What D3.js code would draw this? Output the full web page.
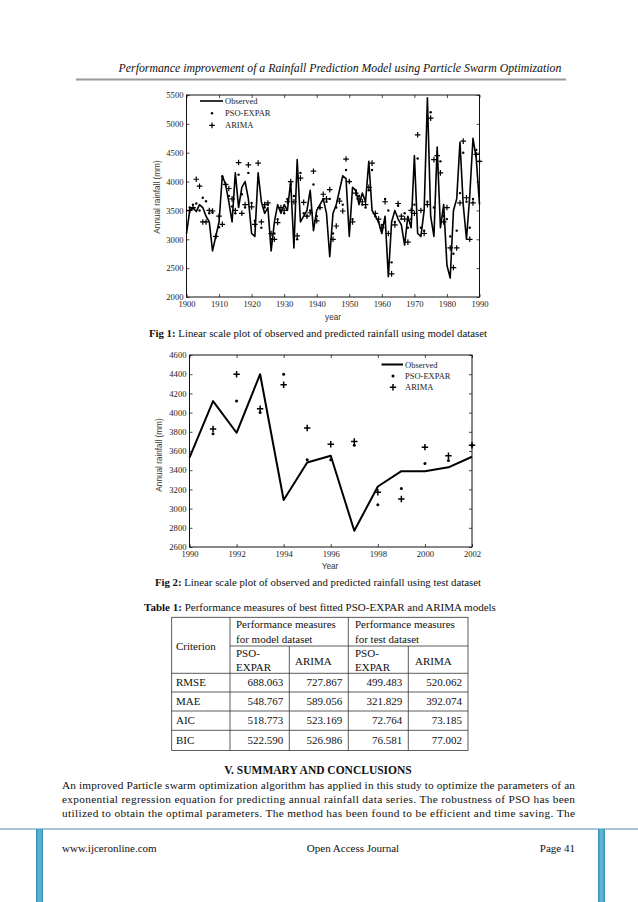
<!DOCTYPE html>
<html><head><meta charset="utf-8">
<script src="https://cdn.jsdelivr.net/npm/d3@7"></script>
<style>
html,body{margin:0;padding:0;background:#fff;}
svg{display:block;}
</style></head>
<body>
<svg id="page" width="638" height="902" font-family="'Liberation Serif','Times New Roman',serif" fill="#111"></svg>
<script>
// ---------- DATA ----------
const modelYears = [1900,1901,1902,1903,1904,1905,1906,1907,1908,1909,
1910,1911,1912,1913,1914,1915,1916,1917,1918,1919,
1920,1921,1922,1923,1924,1925,1926,1927,1928,1929,
1930,1931,1932,1933,1934,1935,1936,1937,1938,1939,
1940,1941,1942,1943,1944,1945,1946,1947,1948,1949,
1950,1951,1952,1953,1954,1955,1956,1957,1958,1959,
1960,1961,1962,1963,1964,1965,1966,1967,1968,1969,
1970,1971,1972,1973,1974,1975,1976,1977,1978,1979,
1980,1981,1982,1983,1984,1985,1986,1987,1988,1989,1990];
const modelObserved = [3100,3500,3550,3480,3600,3550,3400,3300,2800,3050,
3300,4100,3950,3650,3300,4150,3550,3900,4000,3700,
3100,3050,4150,3650,3450,3550,2800,3300,3600,3450,
3600,3500,4000,2850,4380,3300,3400,3500,3850,3150,
3500,3600,3700,3450,2700,3450,3600,3850,4100,4050,
3050,3900,3850,3600,3800,3650,4350,3500,3400,3300,
3100,3400,2350,3300,3500,3350,3250,2900,3400,3200,
4450,3100,3050,3500,5450,3400,3050,4600,3200,3600,
2550,2330,3500,3700,4680,3600,3000,3750,4750,4400,3600];
const modelPSO = [null,3550,3600,3620,3500,3720,3660,3450,3460,3040,
3210,4090,3950,3750,3570,3450,4120,3780,3550,4150,
3630,3320,4060,3200,3550,3600,3000,3100,3350,3500,
3450,3700,3950,3750,3000,4150,3450,3400,3500,3950,
3400,3550,3700,3650,3700,3100,3550,3700,3600,4200,
4000,3350,3850,3750,3600,3550,3850,4200,3400,3300,
3250,3700,3500,2600,3300,3580,3350,3450,3200,3350,
3600,4400,3200,3150,3650,5200,3550,4300,4350,3400,
3350,3050,2750,3150,3800,4500,3650,3200,3700,4550,4350];
const modelARIMA = [null,3500,3550,4040,3920,3300,3300,3500,3490,3050,
3400,3260,3950,3880,3700,3500,4330,3450,3600,4290,
3560,3260,4320,3300,3600,3630,3100,3000,3290,3550,
3500,3650,4000,3650,3060,4060,3640,3400,3460,4180,
3320,3550,3780,3700,3860,3000,3230,3660,3490,4390,
4000,3300,3800,3700,3650,3600,3900,4320,3450,3350,
3200,3650,3100,2400,3250,3620,3400,3350,2950,3500,
3450,4810,3500,3100,3600,5100,4380,4450,4150,3300,
3550,2850,2510,2850,3630,4700,3720,3000,3630,4470,4350];

const testYears = [1990,1991,1992,1993,1994,1995,1996,1997,1998,1999,2000,2001,2002];
const testObserved = [3530,4120,3790,4400,3090,3480,3550,2770,3230,3390,3390,3430,3540];
const testPSO = [null,3780,4120,4000,4400,3510,3510,3660,3040,3210,3470,3500,3660];
const testARIMA = [null,3830,4400,4040,4290,3840,3670,3700,3170,3100,3640,3550,3660];

const xTicks1 = [1900,1910,1920,1930,1940,1950,1960,1970,1980,1990];
const yTicks1 = [2000,2500,3000,3500,4000,4500,5000,5500];
const xTicks2 = [1990,1992,1994,1996,1998,2000,2002];
const yTicks2 = [2600,2800,3000,3200,3400,3600,3800,4000,4200,4400,4600];

const seriesNames = ["Observed","PSO-EXPAR","ARIMA"];

const tableCriteria = ["RMSE","MAE","AIC","BIC"];
const psoModel = ["688.063","548.767","518.773","522.590"];
const arimaModel = ["727.867","589.056","523.169","526.986"];
const psoTest = ["499.483","321.829","72.764","76.581"];
const arimaTest = ["520.062","392.074","73.185","77.002"];

const paragraph = [
 "An improved Particle swarm optimization algorithm has applied in this study to optimize the parameters of an",
 "exponential regression equation for predicting annual rainfall data series. The robustness of PSO has been",
 "utilized to obtain the optimal parameters. The method has been found to be efficient and time saving. The"
];

const SERIF = "'Liberation Serif','Times New Roman',serif";
const SANS = "'Liberation Sans',Arial,sans-serif";

// ---------- PAGE ----------
const svg = d3.select("#page");

svg.append("text").attr("x",340).attr("y",72).attr("text-anchor","middle")
  .attr("font-size",11.8).attr("font-style","italic")
  .text("Performance improvement of a Rainfall Prediction Model using Particle Swarm Optimization");
svg.append("line").attr("x1",76).attr("x2",566).attr("y1",79.5).attr("y2",79.5)
  .attr("stroke","#9a9a9a").attr("stroke-width",2);

// ---------- CHART FUNCTION ----------
function drawChart(cfg){
  const g = svg.append("g");
  const x = d3.scaleLinear().domain(cfg.xDomain).range([cfg.left,cfg.right]);
  const y = d3.scaleLinear().domain(cfg.yDomain).range([cfg.bottom,cfg.top]);
  const fs = 8.6;
  const ab = g.append("g").attr("transform",`translate(0,${cfg.bottom})`)
    .call(d3.axisBottom(x).tickValues(cfg.xTicks).tickFormat(d3.format("d")).tickSizeInner(-3).tickSizeOuter(0).tickPadding(4));
  const at = g.append("g").attr("transform",`translate(0,${cfg.top})`)
    .call(d3.axisTop(x).tickValues(cfg.xTicks).tickFormat("").tickSizeInner(-3).tickSizeOuter(0));
  const al = g.append("g").attr("transform",`translate(${cfg.left},0)`)
    .call(d3.axisLeft(y).tickValues(cfg.yTicks).tickFormat(d3.format("d")).tickSizeInner(-3).tickSizeOuter(0).tickPadding(3));
  const ar = g.append("g").attr("transform",`translate(${cfg.right},0)`)
    .call(d3.axisRight(y).tickValues(cfg.yTicks).tickFormat("").tickSizeInner(-3).tickSizeOuter(0));
  [ab,at,al,ar].forEach(a=>{
    a.attr("font-family",SERIF).attr("font-size",fs);
    a.select(".domain").remove();
    a.selectAll("line").attr("stroke","#222").attr("stroke-width",0.8);
    a.selectAll("text").attr("fill","#222");
  });
  g.append("rect").attr("x",cfg.left).attr("y",cfg.top)
    .attr("width",cfg.right-cfg.left).attr("height",cfg.bottom-cfg.top)
    .attr("fill","none").attr("stroke","#111").attr("stroke-width",1);
  g.append("text").attr("x",cfg.xLabelX).attr("y",cfg.xLabelY).attr("text-anchor","middle")
    .attr("font-family",SANS).attr("font-size",8.2).attr("fill","#333")
    .text(cfg.xLabel);
  g.append("text").attr("transform",`translate(${cfg.yLabelX},${cfg.yLabelY}) rotate(-90)`)
    .attr("text-anchor","middle").attr("dominant-baseline","middle")
    .attr("font-family",SANS).attr("font-size",8.2).attr("fill","#3a3030")
    .text("Annual rainfall (mm)");
  const pts = cfg.years.map((yr,i)=>[yr,cfg.obs[i]]);
  g.append("path").datum(pts)
    .attr("d",d3.line().x(d=>x(d[0])).y(d=>y(d[1])))
    .attr("fill","none").attr("stroke","#000").attr("stroke-width",cfg.lw).attr("stroke-linejoin","round");
  const pso = cfg.years.map((yr,i)=>[yr,cfg.pso[i]]).filter(d=>d[1]!=null);
  g.selectAll(null).data(pso).enter().append("circle")
    .attr("cx",d=>x(d[0])).attr("cy",d=>y(d[1])).attr("r",cfg.dotR).attr("fill","#000");
  const ari = cfg.years.map((yr,i)=>[yr,cfg.arima[i]]).filter(d=>d[1]!=null);
  const s = cfg.plus;
  g.selectAll(null).data(ari).enter().append("path")
    .attr("d",d=>`M${x(d[0])-s},${y(d[1])}H${x(d[0])+s}M${x(d[0])},${y(d[1])-s}V${y(d[1])+s}`)
    .attr("stroke","#000").attr("stroke-width",cfg.plusW).attr("fill","none");
  const L = cfg.legend;
  g.append("line").attr("x1",L.x1).attr("x2",L.x2).attr("y1",L.y0).attr("y2",L.y0)
    .attr("stroke","#000").attr("stroke-width",cfg.lw);
  g.append("circle").attr("cx",L.mx).attr("cy",L.y0+L.dy).attr("r",cfg.dotR).attr("fill","#000");
  g.append("path").attr("d",`M${L.mx-s},${L.y0+2*L.dy}H${L.mx+s}M${L.mx},${L.y0+2*L.dy-s}V${L.y0+2*L.dy+s}`)
    .attr("stroke","#000").attr("stroke-width",cfg.plusW);
  seriesNames.forEach((n,i)=>{
    g.append("text").attr("x",L.tx).attr("y",L.y0+i*L.dy+3).attr("font-size",L.fs).attr("fill","#222").text(n);
  });
}

drawChart({
  xDomain:[1900,1990], yDomain:[2000,5500], left:186.5, right:479.5, top:95, bottom:297,
  xTicks:xTicks1, yTicks:yTicks1, years:modelYears, obs:modelObserved, pso:modelPSO, arima:modelARIMA,
  xLabel:"year", xLabelX:333, xLabelY:320, yLabelX:158, yLabelY:197,
  lw:1.6, dotR:1.2, plus:2.8, plusW:1.2,
  legend:{x1:200,x2:223,y0:101,dy:12.2,mx:212,tx:225,fs:8.5}
});

svg.append("text").attr("x",318).attr("y",337).attr("text-anchor","middle").attr("font-size",10.8)
  .html('<tspan font-weight="bold">Fig 1:</tspan> Linear scale plot of observed and predicted rainfall using model dataset');

drawChart({
  xDomain:[1990,2002], yDomain:[2600,4600], left:189.5, right:472, top:355, bottom:547,
  xTicks:xTicks2, yTicks:yTicks2, years:testYears, obs:testObserved, pso:testPSO, arima:testARIMA,
  xLabel:"Year", xLabelX:330, xLabelY:569, yLabelX:160, yLabelY:455,
  lw:2, dotR:1.5, plus:3.2, plusW:1.5,
  legend:{x1:381.5,x2:403,y0:364.5,dy:11.4,mx:393,tx:405,fs:8.5}
});

svg.append("text").attr("x",318).attr("y",586).attr("text-anchor","middle").attr("font-size",10.8)
  .html('<tspan font-weight="bold">Fig 2:</tspan> Linear scale plot of observed and predicted rainfall using test dataset');

// ---------- TABLE ----------
svg.append("text").attr("x",320).attr("y",611).attr("text-anchor","middle").attr("font-size",11)
  .html('<tspan font-weight="bold">Table 1:</tspan> Performance measures of best fitted PSO-EXPAR and ARIMA models');

const colX = [171.7,230,289.3,348.3,408.3,468];
const rowY = [617.3,646,673.3,692,711,730.3,750.5];
const tg = svg.append("g").attr("stroke","#333").attr("stroke-width",0.8);
tg.append("rect").attr("x",colX[0]).attr("y",rowY[0]).attr("width",colX[5]-colX[0]).attr("height",rowY[6]-rowY[0]).attr("fill","none");
tg.append("line").attr("x1",colX[1]).attr("x2",colX[5]).attr("y1",rowY[1]).attr("y2",rowY[1]);
for(let r=2;r<6;r++) tg.append("line").attr("x1",colX[0]).attr("x2",colX[5]).attr("y1",rowY[r]).attr("y2",rowY[r]);
tg.append("line").attr("x1",colX[1]).attr("x2",colX[1]).attr("y1",rowY[0]).attr("y2",rowY[6]);
tg.append("line").attr("x1",colX[3]).attr("x2",colX[3]).attr("y1",rowY[0]).attr("y2",rowY[6]);
tg.append("line").attr("x1",colX[2]).attr("x2",colX[2]).attr("y1",rowY[1]).attr("y2",rowY[6]);
tg.append("line").attr("x1",colX[4]).attr("x2",colX[4]).attr("y1",rowY[1]).attr("y2",rowY[6]);

const tf = 11;
function tt(x,y,s,anchor){ svg.append("text").attr("x",x).attr("y",y).attr("font-size",tf).attr("text-anchor",anchor||"start").text(s); }
tt(176,649.5,"Criterion");
tt(236,628,"Performance measures"); tt(236,643,"for model dataset");
tt(355,628,"Performance measures"); tt(355,643,"for test dataset");
tt(236,657,"PSO-"); tt(236,671,"EXPAR"); tt(295,664.5,"ARIMA");
tt(355,657,"PSO-"); tt(355,671,"EXPAR"); tt(415,664.5,"ARIMA");
const dataCols = [psoModel,arimaModel,psoTest,arimaTest];
tableCriteria.forEach((c,i)=>{
  const yy = (rowY[i+2]+rowY[i+3])/2 + 3.8;
  tt(176,yy,c);
  dataCols.forEach((col,j)=>tt(colX[j+2]-6,yy,col[i],"end"));
});

// ---------- SECTION ----------
svg.append("text").attr("x",318).attr("y",774).attr("text-anchor","middle").attr("font-size",11.5)
  .attr("font-weight","bold").text("V.   SUMMARY AND CONCLUSIONS");
paragraph.forEach((line,i)=>{
  svg.append("text").attr("x",62).attr("y",789+i*14).attr("font-size",11.3)
    .attr("textLength",513).attr("lengthAdjust","spacing").text(line);
});

// ---------- FOOTER ----------
svg.append("line").attr("x1",0).attr("x2",638).attr("y1",829).attr("y2",829).attr("stroke","#8fb3c4").attr("stroke-width",1.6);
[36,598].forEach(bx=>{
  svg.append("rect").attr("x",bx).attr("y",829).attr("width",7).attr("height",73).attr("fill","#3f93b5");
  svg.append("rect").attr("x",bx+1.5).attr("y",829).attr("width",4).attr("height",73).attr("fill","#5ab3d4");
});
svg.append("text").attr("x",62).attr("y",852).attr("font-size",11).text("www.ijceronline.com");
svg.append("text").attr("x",353).attr("y",852).attr("text-anchor","middle").attr("font-size",11).text("Open Access Journal");
svg.append("text").attr("x",575).attr("y",852).attr("text-anchor","end").attr("font-size",11).text("Page 41");
</script>
</body></html>
